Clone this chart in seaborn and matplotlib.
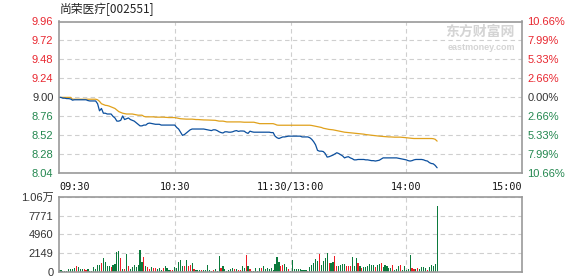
import numpy as np
import pandas as pd
import matplotlib
matplotlib.use("Agg")
import matplotlib.pyplot as plt
import seaborn as sns

title = "尚荣医疗[002551]"
price_ticks = [8.04, 8.28, 8.52, 8.76, 9.00, 9.24, 9.48, 9.72, 9.96]
pct_labels = ["10.66%", "7.99%", "5.33%", "2.66%", "0.00%", "2.66%", "5.33%", "7.99%", "10.66%"]
time_ticks = [0, 60, 120, 180, 240]
time_labels = ["09:30", "10:30", "11:30/13:00", "14:00", "15:00"]
vol_labels = ["0", "2149", "4960", "7771", "1.06万"]
vol_max = 10582
prev_close = 9.00

price = [
    9.00, 9.00, 8.99, 8.99, 8.985, 8.985, 8.98, 8.965, 8.97, 8.97,
    8.97, 8.97, 8.97, 8.97, 8.97, 8.96, 8.955, 8.955, 8.955, 8.955,
    8.92, 8.83, 8.86, 8.80, 8.80, 8.79, 8.79, 8.79, 8.76, 8.74,
    8.70, 8.70, 8.71, 8.765, 8.72, 8.73, 8.74, 8.72, 8.71, 8.70,
    8.68, 8.66, 8.64, 8.64, 8.65, 8.65, 8.67, 8.675, 8.67, 8.665,
    8.66, 8.66, 8.66, 8.65, 8.65, 8.65, 8.65, 8.65, 8.65, 8.65,
    8.65, 8.62, 8.60, 8.56, 8.52, 8.53, 8.55, 8.57, 8.59, 8.60,
    8.60, 8.60, 8.60, 8.60, 8.60, 8.60, 8.595, 8.59, 8.585, 8.58,
    8.59, 8.59, 8.58, 8.565, 8.555, 8.55, 8.565, 8.565, 8.56, 8.56,
    8.565, 8.575, 8.58, 8.57, 8.575, 8.575, 8.573, 8.555, 8.545, 8.573,
    8.565, 8.56, 8.56, 8.56, 8.56, 8.56, 8.56, 8.56, 8.56, 8.56,
    8.555, 8.555, 8.51, 8.49, 8.48, 8.49, 8.50, 8.50, 8.505, 8.51,
    8.51, 8.51, 8.51, 8.51, 8.51, 8.51, 8.50, 8.50, 8.50, 8.50,
    8.49, 8.47, 8.44, 8.40, 8.33, 8.32, 8.32, 8.315, 8.29, 8.245,
    8.25, 8.26, 8.27, 8.285, 8.30, 8.29, 8.275, 8.26, 8.235, 8.245,
    8.25, 8.235, 8.225, 8.21, 8.21, 8.215, 8.215, 8.215, 8.215, 8.21,
    8.21, 8.205, 8.20, 8.20, 8.195, 8.20, 8.205, 8.22, 8.235, 8.235,
    8.235, 8.235, 8.235, 8.235, 8.235, 8.235, 8.23, 8.225, 8.22, 8.215,
    8.21, 8.20, 8.195, 8.20, 8.21, 8.215, 8.215, 8.215, 8.215, 8.21,
    8.20, 8.195, 8.175, 8.164, 8.16, 8.14, 8.11,
]

avg_price = [
    9.00, 9.00, 9.00, 9.00, 9.00, 9.00, 9.00, 8.977, 8.977, 8.977,
    8.977, 8.977, 8.977, 8.977, 8.977, 8.977, 8.977, 8.977, 8.977, 8.977,
    8.97, 8.95, 8.92, 8.91, 8.90, 8.897, 8.89, 8.88, 8.87, 8.86,
    8.84, 8.82, 8.81, 8.80, 8.795, 8.79, 8.79, 8.79, 8.79, 8.785,
    8.78, 8.775, 8.775, 8.775, 8.76, 8.754, 8.754, 8.754, 8.754, 8.754,
    8.75, 8.75, 8.75, 8.75, 8.75, 8.748, 8.745, 8.745, 8.745, 8.745,
    8.745, 8.74, 8.735, 8.73, 8.728, 8.725, 8.725, 8.725, 8.725, 8.725,
    8.722, 8.72, 8.72, 8.718, 8.716, 8.715, 8.715, 8.714, 8.713, 8.712,
    8.712, 8.71, 8.705, 8.70, 8.70, 8.70, 8.695, 8.69, 8.69, 8.69,
    8.69, 8.69, 8.69, 8.69, 8.69, 8.688, 8.686, 8.686, 8.686, 8.686,
    8.686, 8.686, 8.68, 8.675, 8.668, 8.668, 8.668, 8.668, 8.668, 8.668,
    8.668, 8.668, 8.66, 8.65, 8.648, 8.648, 8.648, 8.648, 8.648, 8.648,
    8.648, 8.648, 8.648, 8.648, 8.648, 8.648, 8.648, 8.648, 8.648, 8.648,
    8.648, 8.645, 8.64, 8.635, 8.63, 8.625, 8.62, 8.61, 8.605, 8.60,
    8.595, 8.593, 8.59, 8.585, 8.58, 8.575, 8.57, 8.565, 8.56, 8.558,
    8.555, 8.552, 8.55, 8.548, 8.545, 8.542, 8.54, 8.538, 8.535, 8.53,
    8.527, 8.524, 8.52, 8.518, 8.515, 8.512, 8.51, 8.508, 8.506, 8.504,
    8.502, 8.50, 8.50, 8.498, 8.497, 8.497, 8.497, 8.497, 8.495, 8.492,
    8.49, 8.487, 8.485, 8.482, 8.48, 8.48, 8.48, 8.48, 8.48, 8.48,
    8.48, 8.48, 8.48, 8.48, 8.478, 8.47, 8.447,
]

volume = [
    150,
    235, 95, 140, 140, 425, 425, 330, 565, 800, 660,
    330, 425, 330, 280, 425, 140, 140, 660, 425, 940,
    940, 1220, 1975, 1410, 800, 800, 660, 990, 1130, 2775,
    2915, 1930, 375, 375, 2445, 800, 375, 705, 940, 705,
    940, 3055, 1365, 2070, 800, 660, 330, 660, 520, 520,
    425, 520, 235, 470, 800, 565, 280, 235, 235, 660,
    520, 1365, 1645, 845, 845, 1645, 845, 990, 1220, 375,
    235, 235, 235, 235, 235, 235, 940, 235, 95, 235,
    330, 95, 2210, 565, 800, 425, 95, 235, 425, 565,
    425, 330, 235, 235, 800, 565, 2350, 800, 330, 95,
    140, 520, 140, 520, 520, 800, 425, 565, 425, 470,
    235, 1035, 2070, 1410, 845, 940, 1130, 660, 425, 100,
    1645, 375, 375, 375, 375, 235, 235, 235, 140, 660,
    940, 1220, 1785, 1505, 2490, 940, 1505, 1930, 2630, 1270,
    1220, 1320, 2210, 800, 845, 940, 1080, 1035, 800, 800,
    800, 2070, 845, 1930, 1220, 800, 520, 660, 660, 800,
    1080, 940, 940, 660, 940, 1130, 1220, 660, 940, 800,
    520, 520, 940, 235, 375, 800, 940, 235, 800, 235,
    375, 2350, 520, 425, 425, 520, 425, 660, 660, 520,
    235, 660, 940, 800, 1080, 9260,
]

direction = ("g" + "ggggggggrg" + "ggrrgggggg" + "grggggrggg" + "grgrgrgggg"
             + "gggrgrrgrr" + "gggrgggrrg" + "ggggrgrrgr" + "gggrgggggr"
             + "gggrgggggg" + "rgrrggrgrg" + "ggggrggggg" + "ggggrrggrg"
             + "ggggggggrg" + "ggggrggggr" + "ggrrggggrr" + "rgggrgrggg"
             + "gggrggrggg" + "ggrgggrggg" + "ggrrgrgggg" + "rggggg")

minutes = list(range(len(price)))

RED = "#ee1c25"
GREEN = "#0b7a3c"
LRED = "#e8262f"
LGREEN = "#23874f"
DARK = "#333333"
BLUE = "#0b4f9e"
GOLD = "#e0a11c"
GRID = "#cfcfcf"
SPINE = "#999999"

sns.set_theme(style="white")
plt.rcParams["font.family"] = ["Liberation Sans", "Noto Sans CJK SC", "DejaVu Sans"]

fig = plt.figure(figsize=(5.78, 2.76), dpi=100)
ax = fig.add_axes([59 / 578, 1 - 173.3 / 276, (522 - 59) / 578, (173.3 - 21.5) / 276])
axv = fig.add_axes([59 / 578, 1 - 271.5 / 276, (522 - 59) / 578, (271.5 - 197) / 276])

df = pd.DataFrame({"minute": minutes, "price": price, "avg": avg_price,
                   "volume": volume, "dir": list(direction)})

# price panel
sns.lineplot(data=df, x="minute", y="avg", color=GOLD, lw=0.9, ax=ax)
sns.lineplot(data=df, x="minute", y="price", color=BLUE, lw=0.9, ax=ax)
ax.set_xlim(0, 240)
ax.set_ylim(price_ticks[0], price_ticks[-1])
ax.set_xlabel("")
ax.set_ylabel("")
ax.set_yticks(price_ticks)
ax.set_yticklabels([f"{p:.2f}" for p in price_ticks], fontsize=8)
for lbl, p in zip(ax.get_yticklabels(), price_ticks):
    lbl.set_color(LRED if p > prev_close + 1e-9 else (LGREEN if p < prev_close - 1e-9 else DARK))
ax.set_xticks(time_ticks)
ax.set_xticklabels(time_labels, fontsize=7.3, family="DejaVu Sans Mono", color="#111111")
xl = ax.get_xticklabels()
xl[0].set_ha("left")
xl[-1].set_ha("right")
ax.tick_params(axis="both", length=0, pad=4)
ax.tick_params(axis="x", pad=6)
ax.grid(True, axis="y", color=GRID, ls=(0, (4, 3)), lw=0.8)
for t in [60, 120, 180]:
    ax.axvline(t, color=GRID, ls=(0, (4, 3)), lw=0.8, zorder=0)
for s in ax.spines.values():
    s.set_color(SPINE)
    s.set_linewidth(1.2)

ax2 = ax.twinx()
ax2.set_ylim(ax.get_ylim())
ax2.set_yticks(price_ticks)
ax2.set_yticklabels(pct_labels[::-1], fontsize=8)
for lbl, p in zip(ax2.get_yticklabels(), price_ticks):
    lbl.set_color(LRED if p > prev_close + 1e-9 else (LGREEN if p < prev_close - 1e-9 else DARK))
ax2.tick_params(axis="y", length=0, pad=4)
ax2.grid(False)
for s in ax2.spines.values():
    s.set_visible(False)

# watermark
ax.text(0.985, 0.935, "东方财富网", transform=ax.transAxes, ha="right", va="center",
        fontsize=10, color="#d4d4d4", family="Noto Sans CJK SC", fontweight="bold")
ax.text(0.985, 0.83, "eastmoney.com", transform=ax.transAxes, ha="right", va="center",
        fontsize=6.5, color="#d4d4d4", fontweight="bold")

# volume panel
sns.barplot(data=df, x="minute", y="volume", hue="dir", palette={"r": RED, "g": GREEN},
            native_scale=True, dodge=False, width=0.6, saturation=1, linewidth=0,
            antialiased=False, legend=False, ax=axv)
axv.set_xlim(0, 240)
axv.set_ylim(0, vol_max)
axv.set_xlabel("")
axv.set_ylabel("")
axv.set_xticks([])
vt = [vol_max * k / 4 for k in range(5)]
axv.set_yticks(vt)
axv.set_yticklabels(vol_labels, fontsize=8, color=DARK,
                    family=["Liberation Sans", "Noto Sans CJK SC"])
axv.tick_params(axis="y", length=0, pad=4)
axv.grid(True, axis="y", color=GRID, ls=(0, (4, 3)), lw=0.8)
for t in [60, 120, 180]:
    axv.axvline(t, color=GRID, ls=(0, (4, 3)), lw=0.8, zorder=0)
axv.set_axisbelow(True)
for s in axv.spines.values():
    s.set_color(SPINE)
    s.set_linewidth(1.2)

fig.text(60 / 578, 1 - 9 / 276, title, ha="left", va="center", fontsize=8.5,
         color="#222222", family=["Noto Sans CJK SC", "DejaVu Sans"])

fig.savefig("out.png", dpi=100)
